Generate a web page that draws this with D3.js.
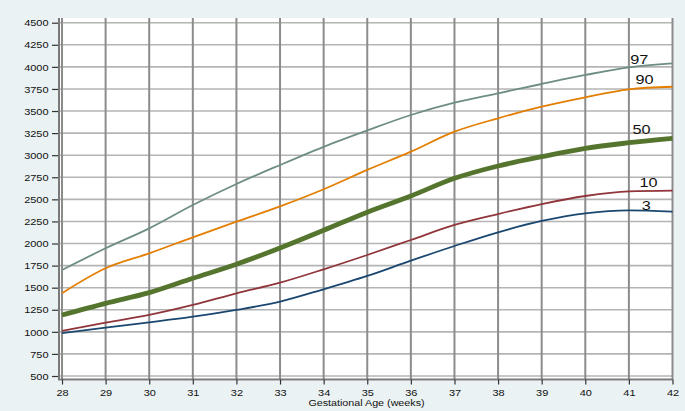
<!DOCTYPE html>
<html>
<head>
<meta charset="utf-8">
<script src="https://cdn.jsdelivr.net/npm/d3@7"></script>
<style>
  html, body { margin: 0; padding: 0; background: #eaf2f3; }
  svg { display: block; }
  text { font-family: "Liberation Sans", Arial, Helvetica, sans-serif; fill: #111; }
</style>
</head>
<body>
<svg id="chart" width="685" height="411"></svg>
<script>
// ---- data ----
const weeks = [28, 29, 30, 31, 32, 33, 34, 35, 36, 37, 38, 39, 40, 41, 42];
const yTicks = [500, 750, 1000, 1250, 1500, 1750, 2000, 2250, 2500, 2750, 3000, 3250, 3500, 3750, 4000, 4250, 4500];
const p97 = [1700, 1946, 2172, 2436, 2674, 2889, 3095, 3280, 3455, 3594, 3701, 3806, 3908, 3995, 4040];
const p90 = [1438, 1720, 1889, 2070, 2247, 2420, 2614, 2833, 3040, 3266, 3418, 3549, 3655, 3746, 3775];
const p50 = [1191, 1323, 1444, 1606, 1765, 1950, 2150, 2355, 2538, 2738, 2878, 2983, 3078, 3141, 3191];
const p10 = [1010, 1104, 1191, 1304, 1436, 1557, 1708, 1870, 2040, 2210, 2334, 2447, 2538, 2590, 2598];
const p3  = [985, 1047, 1108, 1172, 1248, 1342, 1482, 1633, 1806, 1972, 2127, 2255, 2342, 2376, 2360];
const seriesNames = ["97", "90", "50", "10", "3"];
const seriesValues = [p97, p90, p50, p10, p3];
const xTitle = "Gestational Age (weeks)";

// ---- styles ----
const styles = {
  "97": { color: "#6e8e84", width: 1.8, lx: 41.24, dy: -3 },
  "90": { color: "#e37e00", width: 1.8, lx: 41.36, dy: -5 },
  "50": { color: "#55752f", width: 4.8, lx: 41.29, dy: -8.5 },
  "10": { color: "#90353b", width: 1.8, lx: 41.45, dy: -4 },
  "3":  { color: "#1a476f", width: 1.8, lx: 41.40, dy: 0 }
};

const svg = d3.select("#chart");
const plot = { x0: 58, y0: 18, x1: 673, y1: 381 };
const x = d3.scaleLinear().domain([28, 42]).range([62, 672.5]);
const y = d3.scaleLinear().domain([500, 4500]).range([376, 22.7]);
const SX = 1.22; // horizontal stretch of text

// background
svg.append("rect").attr("width", 685).attr("height", 411).attr("fill", "#eaf2f3");
svg.append("rect")
  .attr("x", plot.x0).attr("y", plot.y0)
  .attr("width", plot.x1 - plot.x0).attr("height", plot.y1 - plot.y0)
  .attr("fill", "#ffffff");

// horizontal grid
svg.append("g").selectAll("line").data(yTicks).join("line")
  .attr("x1", plot.x0).attr("x2", plot.x1)
  .attr("y1", d => y(d)).attr("y2", d => y(d))
  .attr("stroke", "#b4b4b4").attr("stroke-width", 1.6);

// vertical grid
svg.append("g").selectAll("line").data(weeks).join("line")
  .attr("x1", d => x(d)).attr("x2", d => x(d))
  .attr("y1", plot.y0).attr("y2", plot.y1 - 2)
  .attr("stroke", "#8c8c8c").attr("stroke-width", 2);

// axes lines
svg.append("line").attr("x1", 59).attr("x2", 59).attr("y1", plot.y0).attr("y2", 380)
  .attr("stroke", "#7a7a7a").attr("stroke-width", 2);
svg.append("line").attr("x1", 58).attr("x2", plot.x1).attr("y1", 379.5).attr("y2", 379.5)
  .attr("stroke", "#7a7a7a").attr("stroke-width", 2);

// y axis ticks + labels
const yAxis = d3.axisLeft(y).tickValues(yTicks).tickSize(6).tickPadding(0).tickFormat(d3.format("d"));
const gy = svg.append("g").attr("transform", "translate(58,0)").call(yAxis);
gy.select(".domain").remove();
gy.selectAll(".tick line").attr("stroke", "#333").attr("stroke-width", 1.2);
gy.selectAll(".tick text").each(function() {
  const t = d3.select(this);
  t.attr("x", null).attr("dy", null)
   .attr("transform", `translate(-9.5,3.2) scale(${SX},1)`)
   .attr("text-anchor", "end")
   .attr("font-size", "9px").attr("fill", "#111");
});

// x axis ticks + labels
const xAxis = d3.axisBottom(x).tickValues(weeks).tickSize(5).tickPadding(0).tickFormat(d3.format("d"));
const gx = svg.append("g").attr("transform", "translate(0,379.5)").call(xAxis);
gx.select(".domain").remove();
gx.selectAll(".tick line").attr("stroke", "#333").attr("stroke-width", 1.2);
gx.selectAll(".tick text").each(function() {
  const t = d3.select(this);
  t.attr("y", null).attr("dy", null)
   .attr("transform", `translate(0,16) scale(${SX},1)`)
   .attr("text-anchor", "middle")
   .attr("font-size", "9px").attr("fill", "#111");
});
gx.attr("font-family", null);
gy.attr("font-family", null);

// x axis title
svg.append("text")
  .attr("transform", `translate(366.5,405.5) scale(${SX},1)`)
  .attr("text-anchor", "middle")
  .attr("font-size", "8.8px")
  .text(xTitle);

// series lines
const line = d3.line().x((d, i) => x(weeks[i])).y(d => y(d)).curve(d3.curveMonotoneX);
const ordered = [3, 4, 1, 0, 2]; // draw order
ordered.forEach(k => {
  const name = seriesNames[k];
  svg.append("path")
    .datum(seriesValues[k])
    .attr("d", line)
    .attr("fill", "none")
    .attr("stroke", styles[name].color)
    .attr("stroke-width", styles[name].width)
    .attr("stroke-linejoin", "round");
});

// series labels
seriesNames.forEach((name, k) => {
  const vals = seriesValues[k];
  const st = styles[name];
  const yv = y(vals[weeks.indexOf(41)]) + st.dy;
  svg.append("text")
    .attr("transform", `translate(${x(st.lx)},${yv}) scale(1.3,1)`)
    .attr("text-anchor", "middle")
    .attr("font-size", "12.5px")
    .attr("fill", "#111")
    .text(name);
});
</script>
</body>
</html>
